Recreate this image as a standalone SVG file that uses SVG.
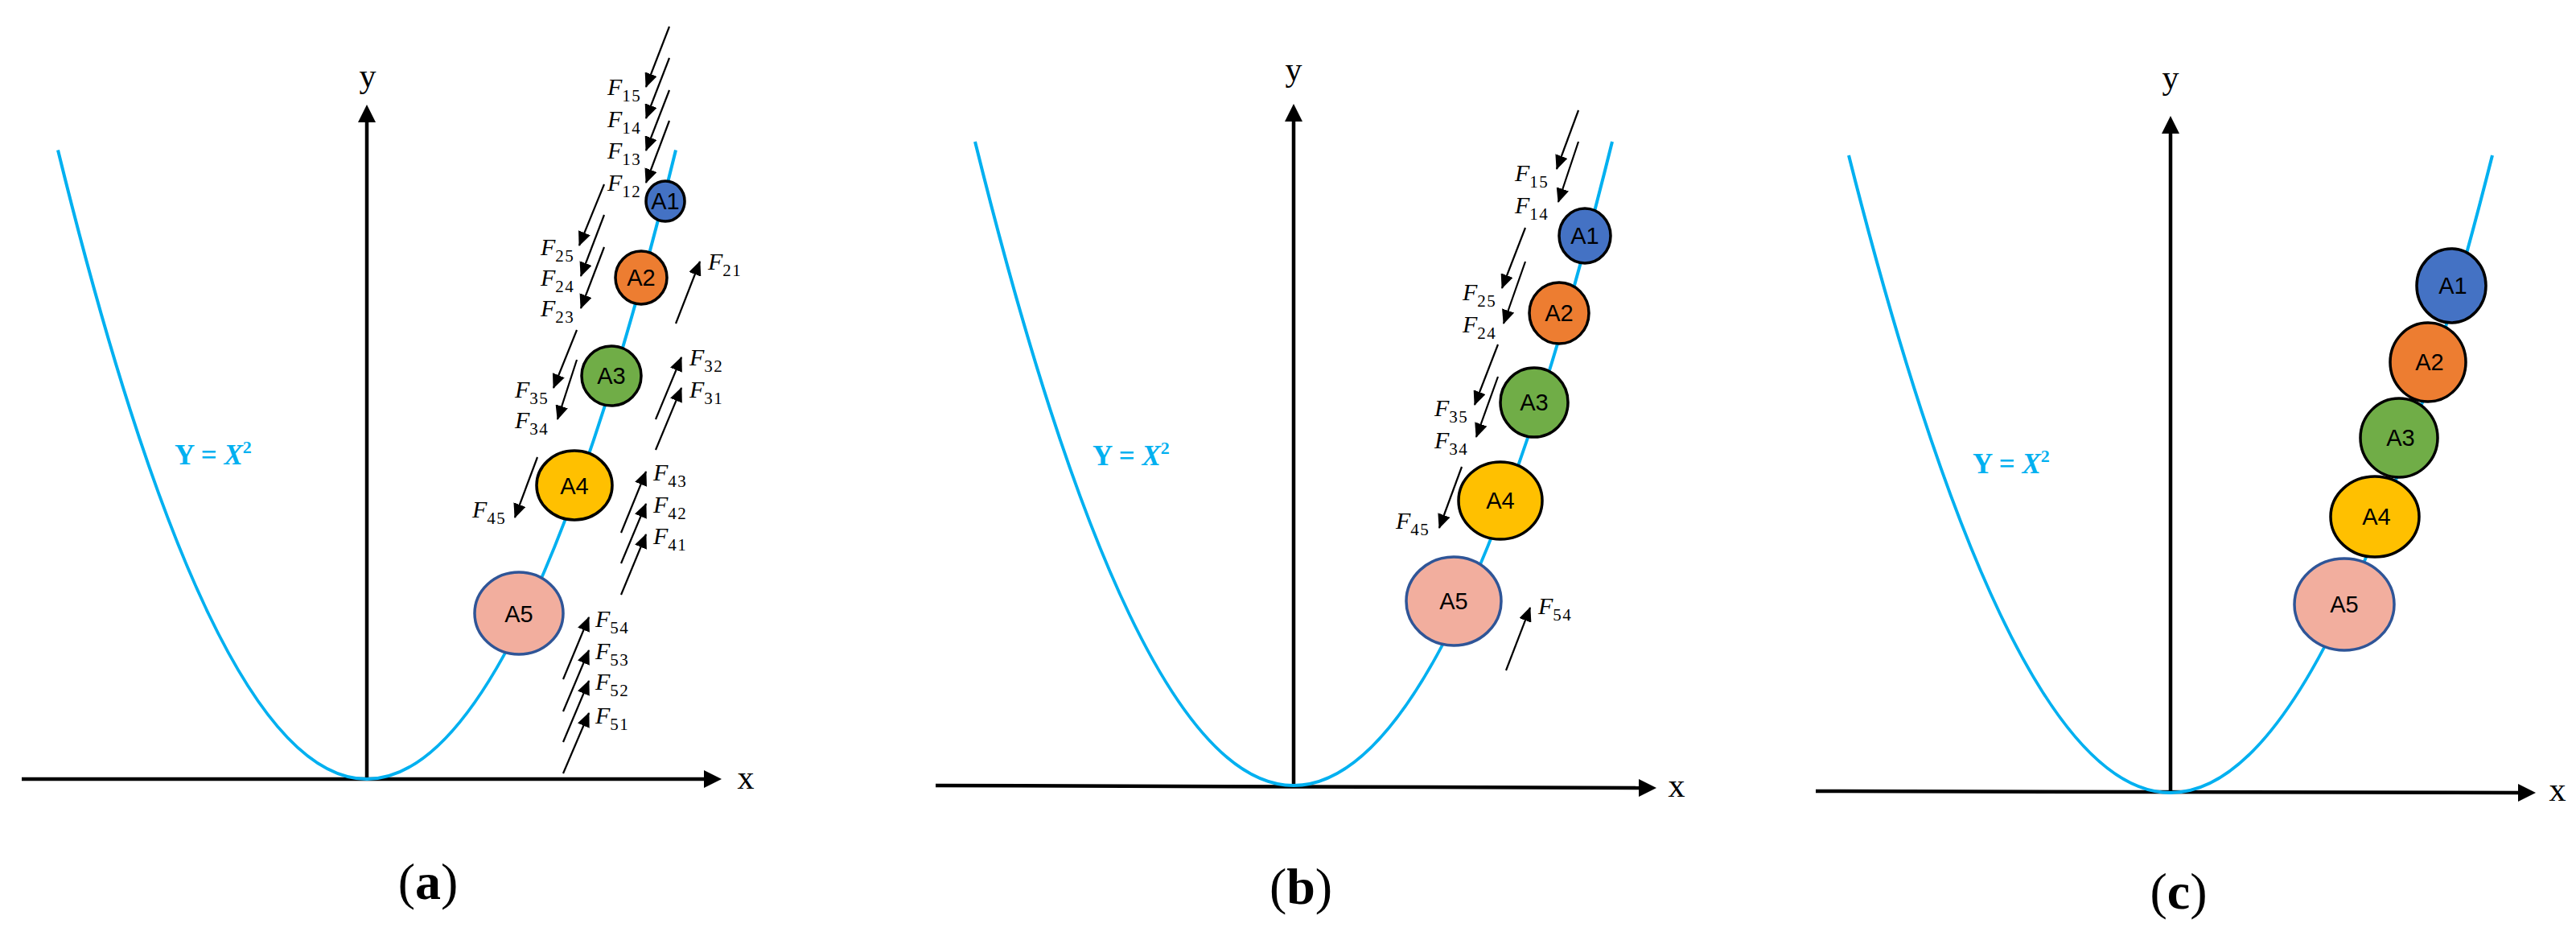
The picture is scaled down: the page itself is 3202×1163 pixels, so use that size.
<svg xmlns="http://www.w3.org/2000/svg" width="3202" height="1163" viewBox="0 0 3202 1163">
<style>
.curve{fill:none;stroke:#00B0F0;stroke-width:4}
.axis{fill:none;stroke:#000;stroke-width:4.5;marker-end:url(#axh)}
.force{stroke:#000;stroke-width:2.2;marker-end:url(#ah)}
.ball{stroke:#000;stroke-width:3.5}
.b5{fill:#F2AE9E;stroke:#2F5597;stroke-width:3.5}
.c1{fill:#4472C4}.c2{fill:#ED7D31}.c3{fill:#70AD47}.c4{fill:#FFC000}
.lbl{font-family:"Liberation Sans",Arial,sans-serif;font-size:29px;text-anchor:middle;fill:#000}
.fl{font-family:"Liberation Serif","Times New Roman",serif;font-size:30px;font-style:italic;fill:#000}
.s{font-style:normal;font-size:21px;letter-spacing:1.5px}
.ax{font-family:"Liberation Serif","Times New Roman",serif;font-size:42px;fill:#000;text-anchor:middle}
.eq{font-family:"Liberation Serif","Times New Roman",serif;font-size:35px;font-weight:bold;fill:#00B0F0}
.cap{font-family:"Liberation Serif","Times New Roman",serif;font-size:64px;fill:#000;text-anchor:middle}
</style>
<defs>
<marker id="ah" viewBox="0 0 18 16" refX="17" refY="8" markerWidth="18" markerHeight="16" markerUnits="userSpaceOnUse" orient="auto"><path d="M0,0 L18,8 L0,16 z" fill="#000"/></marker>
<marker id="axh" viewBox="0 0 22 22" refX="0" refY="11" markerWidth="22" markerHeight="22" markerUnits="userSpaceOnUse" orient="auto"><path d="M0,0 L22,11 L0,22 z" fill="#000"/></marker>
</defs>
<rect width="3202" height="1163" fill="#fff"/>

<!-- Panel (a) -->
<g id="panel-a">
  <g id="a-axes">
    <line class="axis" x1="456" y1="968" x2="456" y2="152"/>
    <line class="axis" x1="27" y1="968" x2="875" y2="968"/>
    <text class="ax" x="457" y="108">y</text>
    <text class="ax" x="927" y="980">x</text>
  </g>
  <path id="a-curve" class="curve" d="M72,186.5 Q456,1749.5 840,186.5"/>
  <text class="eq" x="217" y="577">Y = <tspan font-style="italic">X</tspan><tspan font-size="22" dy="-14">2</tspan></text>
  <g id="a-connectors">
    <line class="force" x1="832" y1="33" x2="803" y2="108"/>
    <line class="force" x1="832" y1="72" x2="803" y2="147"/>
    <line class="force" x1="832" y1="112" x2="803" y2="187"/>
    <line class="force" x1="832" y1="150" x2="803" y2="227"/>
    <line class="force" x1="751" y1="229" x2="720" y2="305"/>
    <line class="force" x1="751" y1="267" x2="722" y2="343"/>
    <line class="force" x1="751" y1="307" x2="722" y2="383"/>
    <line class="force" x1="840" y1="402" x2="870" y2="325"/>
    <line class="force" x1="717" y1="410" x2="688" y2="482"/>
    <line class="force" x1="717" y1="447" x2="693" y2="521"/>
    <line class="force" x1="815" y1="521" x2="847" y2="444"/>
    <line class="force" x1="815" y1="559" x2="847" y2="482"/>
    <line class="force" x1="668" y1="568" x2="640" y2="643"/>
    <line class="force" x1="772" y1="662" x2="803" y2="586"/>
    <line class="force" x1="772" y1="700" x2="803" y2="626"/>
    <line class="force" x1="772" y1="739" x2="803" y2="664"/>
    <line class="force" x1="700" y1="844" x2="732" y2="767"/>
    <line class="force" x1="700" y1="884" x2="732" y2="808"/>
    <line class="force" x1="700" y1="922" x2="732" y2="846"/>
    <line class="force" x1="700" y1="961" x2="732" y2="886"/>
  </g>
  <g id="a-force-labels">
    <text class="fl" x="755" y="118">F<tspan class="s" dy="8">15</tspan></text>
    <text class="fl" x="755" y="158">F<tspan class="s" dy="8">14</tspan></text>
    <text class="fl" x="755" y="197">F<tspan class="s" dy="8">13</tspan></text>
    <text class="fl" x="755" y="237">F<tspan class="s" dy="8">12</tspan></text>
    <text class="fl" x="672" y="317">F<tspan class="s" dy="8">25</tspan></text>
    <text class="fl" x="672" y="355">F<tspan class="s" dy="8">24</tspan></text>
    <text class="fl" x="672" y="393">F<tspan class="s" dy="8">23</tspan></text>
    <text class="fl" x="880" y="335">F<tspan class="s" dy="8">21</tspan></text>
    <text class="fl" x="640" y="494">F<tspan class="s" dy="8">35</tspan></text>
    <text class="fl" x="640" y="532">F<tspan class="s" dy="8">34</tspan></text>
    <text class="fl" x="857" y="454">F<tspan class="s" dy="8">32</tspan></text>
    <text class="fl" x="857" y="494">F<tspan class="s" dy="8">31</tspan></text>
    <text class="fl" x="587" y="643">F<tspan class="s" dy="8">45</tspan></text>
    <text class="fl" x="812" y="597">F<tspan class="s" dy="8">43</tspan></text>
    <text class="fl" x="812" y="637">F<tspan class="s" dy="8">42</tspan></text>
    <text class="fl" x="812" y="676">F<tspan class="s" dy="8">41</tspan></text>
    <text class="fl" x="740" y="779">F<tspan class="s" dy="8">54</tspan></text>
    <text class="fl" x="740" y="819">F<tspan class="s" dy="8">53</tspan></text>
    <text class="fl" x="740" y="857">F<tspan class="s" dy="8">52</tspan></text>
    <text class="fl" x="740" y="899">F<tspan class="s" dy="8">51</tspan></text>
  </g>
  <g id="a-A1"><ellipse class="ball c1" cx="827" cy="250" rx="24" ry="25"/><text class="lbl" x="827" y="260" font-size="27">A1</text></g>
  <g id="a-A2"><ellipse class="ball c2" cx="797" cy="345" rx="32" ry="33"/><text class="lbl" x="797" y="355">A2</text></g>
  <g id="a-A3"><ellipse class="ball c3" cx="760" cy="467" rx="37" ry="37"/><text class="lbl" x="760" y="477">A3</text></g>
  <g id="a-A4"><ellipse class="ball c4" cx="714" cy="603" rx="47" ry="43"/><text class="lbl" x="714" y="614">A4</text></g>
  <g id="a-A5"><ellipse class="b5" cx="645" cy="762" rx="55" ry="51"/><text class="lbl" x="645" y="773">A5</text></g>
  <text class="cap" x="532" y="1117">(<tspan font-weight="bold">a</tspan>)</text>
</g>

<!-- Panel (b) -->
<g id="panel-b">
  <g id="b-axes">
    <line class="axis" x1="1608" y1="976" x2="1608" y2="151"/>
    <line class="axis" x1="1163" y1="976" x2="2037" y2="979"/>
    <text class="ax" x="1608" y="100">y</text>
    <text class="ax" x="2084" y="990">x</text>
  </g>
  <path id="b-curve" class="curve" d="M1212,176 Q1608,1776 2004,176"/>
  <text class="eq" x="1358" y="578">Y = <tspan font-style="italic">X</tspan><tspan font-size="22" dy="-14">2</tspan></text>
  <g id="b-connectors">
    <line class="force" x1="1962" y1="137" x2="1935" y2="210"/>
    <line class="force" x1="1962" y1="176" x2="1937" y2="251"/>
    <line class="force" x1="1896" y1="283" x2="1867" y2="358"/>
    <line class="force" x1="1896" y1="325" x2="1869" y2="402"/>
    <line class="force" x1="1862" y1="428" x2="1833" y2="503"/>
    <line class="force" x1="1862" y1="468" x2="1835" y2="543"/>
    <line class="force" x1="1817" y1="580" x2="1789" y2="656"/>
    <line class="force" x1="1872" y1="833" x2="1902" y2="755"/>
  </g>
  <g id="b-force-labels">
    <text class="fl" x="1883" y="225">F<tspan class="s" dy="8">15</tspan></text>
    <text class="fl" x="1883" y="265">F<tspan class="s" dy="8">14</tspan></text>
    <text class="fl" x="1818" y="373">F<tspan class="s" dy="8">25</tspan></text>
    <text class="fl" x="1818" y="413">F<tspan class="s" dy="8">24</tspan></text>
    <text class="fl" x="1783" y="517">F<tspan class="s" dy="8">35</tspan></text>
    <text class="fl" x="1783" y="557">F<tspan class="s" dy="8">34</tspan></text>
    <text class="fl" x="1735" y="657">F<tspan class="s" dy="8">45</tspan></text>
    <text class="fl" x="1912" y="763">F<tspan class="s" dy="8">54</tspan></text>
  </g>
  <g id="b-A1"><ellipse class="ball c1" cx="1970" cy="293" rx="32" ry="34"/><text class="lbl" x="1970" y="303" font-size="28">A1</text></g>
  <g id="b-A2"><ellipse class="ball c2" cx="1938" cy="389" rx="37" ry="38"/><text class="lbl" x="1938" y="399" font-size="28">A2</text></g>
  <g id="b-A3"><ellipse class="ball c3" cx="1907" cy="500" rx="42" ry="43"/><text class="lbl" x="1907" y="510" font-size="28">A3</text></g>
  <g id="b-A4"><ellipse class="ball c4" cx="1865" cy="622" rx="52" ry="48"/><text class="lbl" x="1865" y="632" font-size="28">A4</text></g>
  <g id="b-A5"><ellipse class="b5" cx="1807" cy="747" rx="59" ry="55"/><text class="lbl" x="1807" y="757" font-size="28">A5</text></g>
  <text class="cap" x="1617" y="1123">(<tspan font-weight="bold">b</tspan>)</text>
</g>

<!-- Panel (c) -->
<g id="panel-c">
  <g id="c-axes">
    <line class="axis" x1="2698" y1="985" x2="2698" y2="166"/>
    <line class="axis" x1="2257" y1="983" x2="3130" y2="985"/>
    <text class="ax" x="2698" y="110">y</text>
    <text class="ax" x="3179" y="995">x</text>
  </g>
  <path id="c-curve" class="curve" d="M2298,193 Q2698,1777 3098,193"/>
  <text class="eq" x="2452" y="588">Y = <tspan font-style="italic">X</tspan><tspan font-size="22" dy="-14">2</tspan></text>
  <g id="c-A1"><ellipse class="ball c1" cx="3047" cy="355" rx="43" ry="46"/><text class="lbl" x="3049" y="365" font-size="28">A1</text></g>
  <g id="c-A2"><ellipse class="ball c2" cx="3018" cy="450" rx="47" ry="49"/><text class="lbl" x="3020" y="460" font-size="28">A2</text></g>
  <g id="c-A3"><ellipse class="ball c3" cx="2982" cy="544" rx="48" ry="49"/><text class="lbl" x="2984" y="554" font-size="28">A3</text></g>
  <g id="c-A4"><ellipse class="ball c4" cx="2952" cy="642" rx="55" ry="50"/><text class="lbl" x="2954" y="652" font-size="28">A4</text></g>
  <g id="c-A5"><ellipse class="b5" cx="2914" cy="751" rx="62" ry="57"/><text class="lbl" x="2914" y="761" font-size="28">A5</text></g>
  <text class="cap" x="2708" y="1129">(<tspan font-weight="bold">c</tspan>)</text>
</g>
</svg>
